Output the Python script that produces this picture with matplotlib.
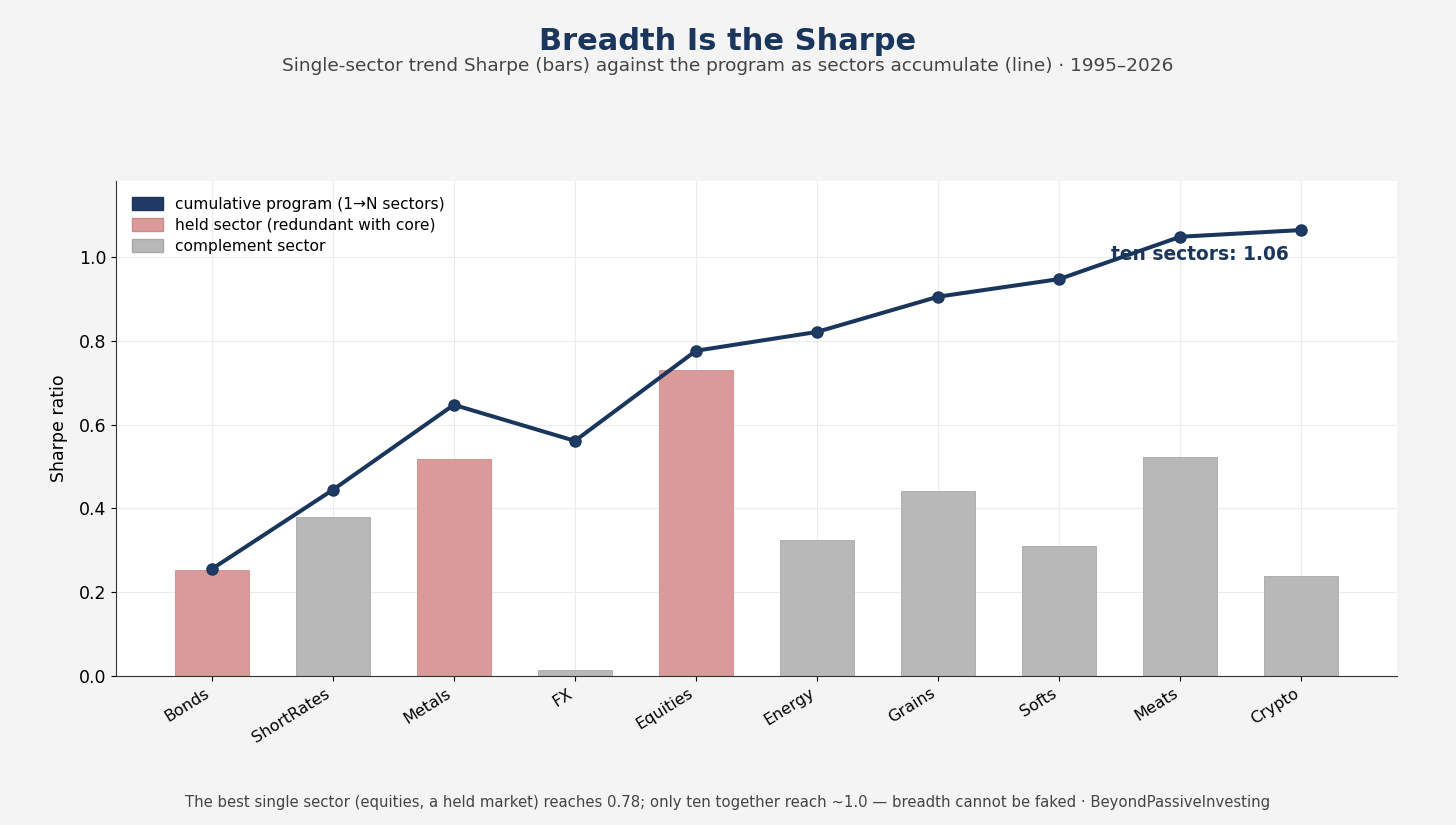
import matplotlib
matplotlib.use("Agg")
import matplotlib.pyplot as plt
from matplotlib.patches import Patch

sectors = ["Bonds", "ShortRates", "Metals", "FX", "Equities", "Energy", "Grains", "Softs", "Meats", "Crypto"]
single_sharpe = [0.253, 0.379, 0.518, 0.014, 0.730, 0.325, 0.442, 0.310, 0.523, 0.239]
held = [True, False, True, False, True, False, False, False, False, False]
cumulative_sharpe = [0.255, 0.444, 0.647, 0.561, 0.776, 0.821, 0.905, 0.947, 1.048, 1.064]

NAVY = "#1b365d"
RED = "#db9a9a"
RED_EDGE = "#cf8a8b"
GRAY = "#b8b8b8"
GRAY_EDGE = "#a8a8a8"

fig = plt.figure(figsize=(14.56, 8.25), dpi=100, facecolor="#f4f4f4")
ax = fig.add_axes([0.0797, 0.1806, 0.8798, 0.6])
ax.set_facecolor("white")

x = list(range(len(sectors)))
colors = [RED if h else GRAY for h in held]
edges = [RED_EDGE if h else GRAY_EDGE for h in held]
ax.bar(x, single_sharpe, width=0.61, color=colors, edgecolor=edges, linewidth=0.6, zorder=2)
ax.plot(x, cumulative_sharpe, color=NAVY, linewidth=2.9, marker="o", markersize=8,
        markerfacecolor="#1f3b63", markeredgecolor=NAVY, zorder=3)

ax.text(8.16, 1.005, f"ten sectors: {cumulative_sharpe[-1]:.2f}", ha="center", va="center",
        fontsize=13.4, fontweight="bold", color=NAVY, zorder=4)

ax.set_xlim(-0.79, 9.79)
ax.set_ylim(0, 1.181)
ax.set_xticks(x)
ax.set_xticklabels(sectors, rotation=32, ha="right", fontsize=11.5)
ax.set_yticks([0.0, 0.2, 0.4, 0.6, 0.8, 1.0])
ax.set_yticklabels([f"{v:.1f}" for v in [0.0, 0.2, 0.4, 0.6, 0.8, 1.0]], fontsize=12.5)
ax.set_ylabel("Sharpe ratio", fontsize=12.5, labelpad=8)
ax.grid(True, color="#ececec", linewidth=0.8, zorder=0)
ax.set_axisbelow(True)
for s in ["top", "right"]:
    ax.spines[s].set_visible(False)
ax.spines["left"].set_color("#333333")
ax.spines["bottom"].set_color("#333333")

handles = [
    Patch(facecolor="#1f3b63", edgecolor=NAVY, label="cumulative program (1→N sectors)"),
    Patch(facecolor=RED, edgecolor=RED_EDGE, label="held sector (redundant with core)"),
    Patch(facecolor=GRAY, edgecolor=GRAY_EDGE, label="complement sector"),
]
ax.legend(handles=handles, loc="upper left", frameon=False, fontsize=11.2, handlelength=2.0,
          handleheight=0.9, borderaxespad=0.6, labelspacing=0.4)

fig.text(0.5, 0.950, "Breadth Is the Sharpe", ha="center", va="center", fontsize=22,
         fontweight="bold", color=NAVY)
fig.text(0.5, 0.920, "Single-sector trend Sharpe (bars) against the program as sectors accumulate (line) · 1995–2026",
         ha="center", va="center", fontsize=13.3, color="#444444")
fig.text(0.5, 0.027, "The best single sector (equities, a held market) reaches 0.78; only ten together reach ~1.0 — breadth cannot be faked · BeyondPassiveInvesting",
         ha="center", va="center", fontsize=10.7, color="#444444")

fig.savefig("out.png", dpi=100, facecolor=fig.get_facecolor())
